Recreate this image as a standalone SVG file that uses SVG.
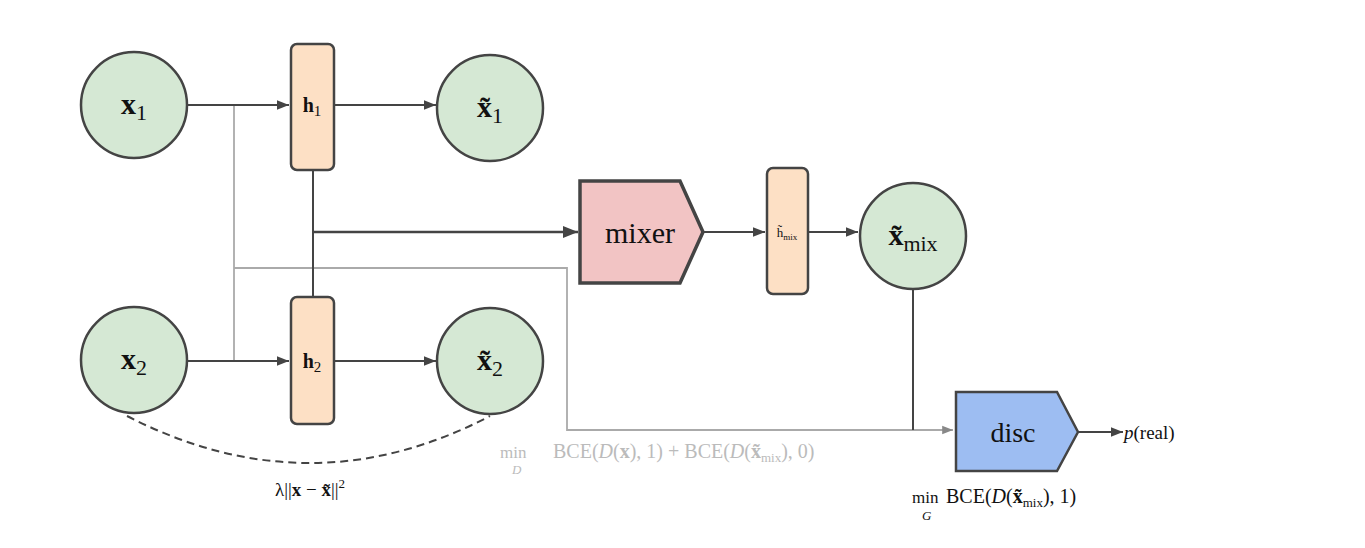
<svg xmlns="http://www.w3.org/2000/svg" width="1365" height="548" viewBox="0 0 1365 548">
<defs>
<style>
.c{fill:#d5e8d4;stroke:#444;stroke-width:2.5}
.h{fill:#fde0c5;stroke:#444;stroke-width:2.5}
.t{font-family:"Liberation Serif","DejaVu Serif",serif;fill:#111}
.ln{fill:none;stroke:#444;stroke-width:2}
.g{fill:none;stroke:#aaa;stroke-width:1.8}
</style>
<marker id="a" viewBox="0 0 10 10" refX="10" refY="5" markerWidth="6" markerHeight="6" orient="auto"><path d="M0,1 L10,5 L0,9 z" fill="#444"/></marker>
<marker id="ag" viewBox="0 0 10 10" refX="10" refY="5" markerWidth="6" markerHeight="6" orient="auto"><path d="M0,1 L10,5 L0,9 z" fill="#888"/></marker>
</defs>
<rect width="1365" height="548" fill="#fff"/>
<g id="connectors">
<path class="g" d="M234,105 V361 M234,268 H567 V430 H953" marker-end="url(#ag)"/>
<path class="ln" d="M187,105 H289" marker-end="url(#a)"/>
<path class="ln" d="M334,105 H436" marker-end="url(#a)"/>
<path class="ln" d="M187,361 H289" marker-end="url(#a)"/>
<path class="ln" d="M334,361 H436" marker-end="url(#a)"/>
<path class="ln" d="M313,170 V297"/>
<path class="ln" style="stroke-width:2.5" d="M313,232 H578" marker-end="url(#a)"/>
<path class="ln" d="M704,232 H765" marker-end="url(#a)"/>
<path class="ln" d="M808,232 H858" marker-end="url(#a)"/>
<path class="ln" d="M913,289 V430"/>
<path class="ln" d="M1078,432 H1123" marker-end="url(#a)"/>
<path class="ln" stroke-dasharray="8,5" d="M127,416 Q310,510 490,416"/>
</g>
<g id="x1"><circle class="c" cx="134" cy="105" r="53"/><text class="t" x="134" y="114" text-anchor="middle" font-size="30"><tspan font-weight="bold">x</tspan><tspan font-size="22" dy="6">1</tspan></text></g>
<g id="xt1"><circle class="c" cx="490" cy="108" r="53"/><text class="t" x="490" y="117" text-anchor="middle" font-size="30"><tspan font-weight="bold">x̃</tspan><tspan font-size="22" dy="6">1</tspan></text></g>
<g id="x2"><circle class="c" cx="134" cy="360" r="53"/><text class="t" x="134" y="369" text-anchor="middle" font-size="30"><tspan font-weight="bold">x</tspan><tspan font-size="22" dy="6">2</tspan></text></g>
<g id="xt2"><circle class="c" cx="490" cy="361" r="53"/><text class="t" x="490" y="370" text-anchor="middle" font-size="30"><tspan font-weight="bold">x̃</tspan><tspan font-size="22" dy="6">2</tspan></text></g>
<g id="h1"><rect class="h" x="291" y="44" width="43" height="126" rx="6"/><text class="t" x="312" y="112" text-anchor="middle" font-size="20"><tspan font-weight="bold">h</tspan><tspan font-size="15" dy="4">1</tspan></text></g>
<g id="h2"><rect class="h" x="291" y="297" width="43" height="127" rx="6"/><text class="t" x="312" y="368" text-anchor="middle" font-size="20"><tspan font-weight="bold">h</tspan><tspan font-size="15" dy="4">2</tspan></text></g>
<g id="mixer"><path d="M580,181 H680 L703,232 L680,283 H580 Z" fill="#f2c4c4" stroke="#444" stroke-width="3.5"/><text class="t" x="640" y="243" text-anchor="middle" font-size="30">mixer</text></g>
<g id="hmix"><rect class="h" x="767" y="168" width="41" height="126" rx="6"/><text class="t" x="787" y="237" text-anchor="middle" font-size="13">h̃<tspan font-size="9" dy="3">mix</tspan></text></g>
<g id="xmix"><circle class="c" cx="913" cy="236" r="53"/><text class="t" x="913" y="245" text-anchor="middle" font-size="30"><tspan font-weight="bold">x̃</tspan><tspan font-size="22" dy="6">mix</tspan></text></g>
<g id="disc"><path d="M956,392 H1057 L1078,432 L1057,471 H956 Z" fill="#9dbdf2" stroke="#444" stroke-width="2.5"/><text class="t" x="1013" y="442" text-anchor="middle" font-size="28">disc</text></g>
<text class="t" x="1124" y="439" font-size="19"><tspan font-style="italic">p</tspan>(real)</text>
<text class="t" x="310" y="496" text-anchor="middle" font-size="19">λ||<tspan font-weight="bold">x</tspan> − <tspan font-weight="bold">x̃</tspan>||<tspan font-size="13" dy="-8">2</tspan></text>
<g fill="#bbb" font-family="Liberation Serif,serif">
<text x="500" y="458" font-size="17" fill="#bbb">min</text>
<text x="512" y="474" font-size="13" font-style="italic" fill="#bbb">D</text>
<text x="553" y="458" font-size="20" fill="#bbb">BCE(<tspan font-style="italic">D</tspan>(<tspan font-weight="bold">x</tspan>), 1) + BCE(<tspan font-style="italic">D</tspan>(<tspan font-weight="bold">x̃</tspan><tspan font-size="13" dy="4">mix</tspan><tspan dy="-4">), 0)</tspan></text>
</g>
<text class="t" x="912" y="503" font-size="17">min</text>
<text class="t" x="922" y="520" font-size="13" font-style="italic">G</text>
<text class="t" x="946" y="503" font-size="20">BCE(<tspan font-style="italic">D</tspan>(<tspan font-weight="bold">x̃</tspan><tspan font-size="13" dy="4">mix</tspan><tspan dy="-4">), 1)</tspan></text>
</svg>
